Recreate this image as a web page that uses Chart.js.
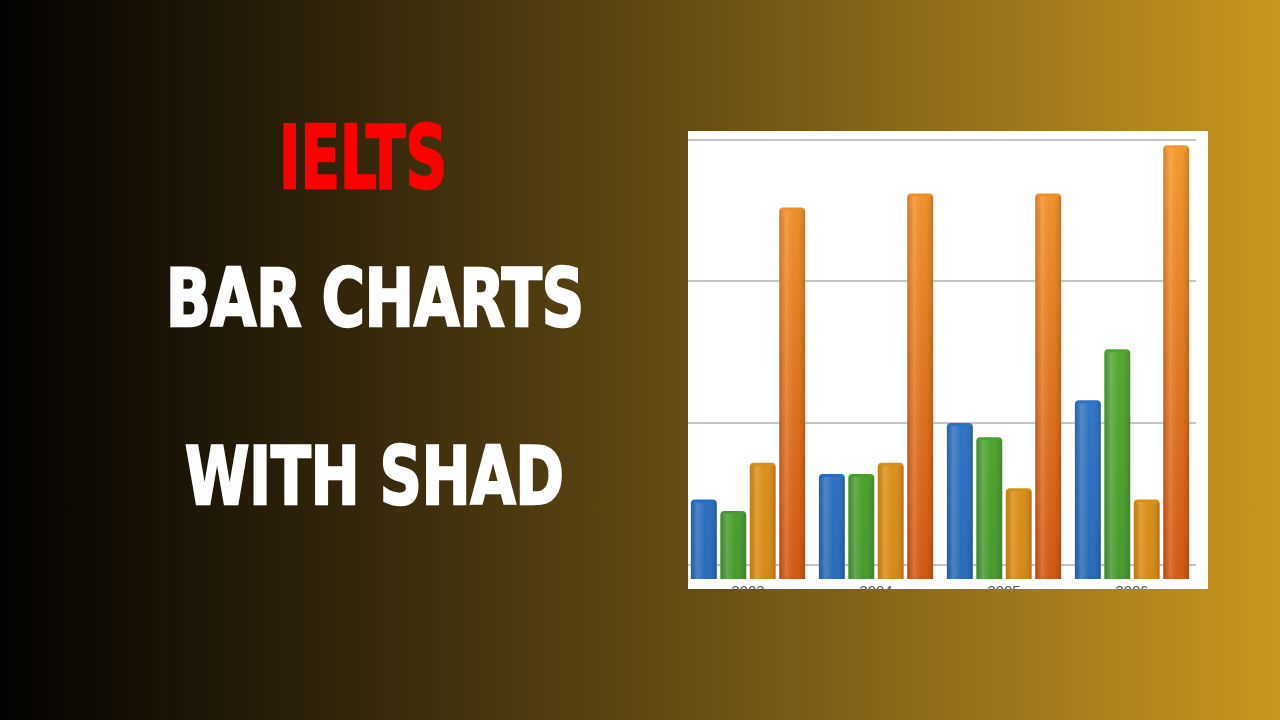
<!DOCTYPE html>
<html>
<head>
<meta charset="utf-8">
<script src="https://cdn.jsdelivr.net/npm/chart.js@4.4.1/dist/chart.umd.min.js"></script>
<style>
    html, body {
        margin: 0;
        width: 1280px;
        height: 720px;
        overflow: hidden;
    }
    body {
        position: relative;
        background: linear-gradient(90deg, #030201 0%, #2e2209 25%, #5e4712 50%, #94701a 75%, #c9971f 100%);
        font-family: "Liberation Sans Narrow", "DejaVu Sans Condensed", "Liberation Sans", sans-serif;
    }
    .title {
        position: absolute;
        white-space: nowrap;
        font-weight: bold;
        line-height: 1;
        transform-origin: 0 0;
        -webkit-text-stroke: 2.5px currentColor;
    }
    #chartBox {
        position: absolute;
        left: 688px;
        top: 131px;
        width: 520px;
        height: 458px;
        overflow: hidden;
        background: #ffffff;
    }
    #barChart {
        position: absolute;
        left: -4px;
        top: 0;
    }
</style>
</head>
<body>
<div class="title" id="t1" style="color:#ff0000">IELTS</div>
<div class="title" id="t2" style="color:#ffffff">BAR CHARTS</div>
<div class="title" id="t3" style="color:#ffffff">WITH SHAD</div>

<div id="chartBox">
    <canvas id="barChart" width="524" height="474"></canvas>
</div>

<script>
// categories (labels at the bottom are cut off in the picture)
const years = ["2003", "2004", "2005", "2006"];

// four series (gridlines every 50)
const seriesBlue = [23, 32, 50, 58];
const seriesGreen = [19, 32, 45, 76];
const seriesYellow = [36, 36, 27, 23];
const seriesOrange = [126, 131, 131, 148];
const gridValues = [0, 50, 100, 150];

// place the heading lines: [element, left, right, baseline, cap height]
const titles = [
    ["t1", 279, 447, 189, 68],
    ["t2", 166, 584, 326, 62],
    ["t3", 185, 564, 504, 63]
];
titles.forEach(([id, left, right, baseline, cap]) => {
    const el = document.getElementById(id);
    const size = cap / 0.78;
    el.style.fontSize = size + "px";
    el.style.left = left + "px";
    el.style.top = (baseline - 0.8465 * size) + "px";
    const w = el.getBoundingClientRect().width;
    el.style.transform = "scaleX(" + ((right - left) / w) + ")";
});

function vertical(top, bottom) {
    return function(c) {
        const area = c.chart.chartArea;
        if (!area) return top;
        const g = c.chart.ctx.createLinearGradient(0, area.top, 0, area.bottom);
        g.addColorStop(0, top);
        g.addColorStop(1, bottom);
        return g;
    };
}

// soft cylinder shading over each bar
const shadePlugin = {
    id: "shade",
    afterDatasetsDraw(chart) {
        const ctx = chart.ctx;
        chart.data.datasets.forEach((ds, i) => {
            chart.getDatasetMeta(i).data.forEach(bar => {
                const p = bar.getProps(["x", "y", "base", "width"], true);
                const left = p.x - p.width / 2;
                const g = ctx.createLinearGradient(left, 0, left + p.width, 0);
                g.addColorStop(0, "rgba(0,0,0,0.10)");
                g.addColorStop(0.25, "rgba(255,255,255,0.18)");
                g.addColorStop(0.55, "rgba(255,255,255,0.02)");
                g.addColorStop(1, "rgba(0,0,0,0.16)");
                ctx.save();
                ctx.fillStyle = g;
                ctx.fillRect(left, p.y + 3, p.width, p.base - p.y - 3);
                ctx.restore();
            });
        });
    }
};

const ctx = document.getElementById("barChart").getContext("2d");

new Chart(ctx, {
    type: "bar",
    data: {
        labels: years,
        datasets: [
            { label: "Series 1", data: seriesBlue, backgroundColor: vertical("#3585d8", "#2467b9") },
            { label: "Series 2", data: seriesGreen, backgroundColor: vertical("#5cb632", "#43982a") },
            { label: "Series 3", data: seriesYellow, backgroundColor: vertical("#e6a01e", "#d68812") },
            { label: "Series 4", data: seriesOrange, backgroundColor: vertical("#f6982a", "#d0540f") }
        ]
    },
    options: {
        responsive: false,
        animation: false,
        layout: { padding: { left: 0, right: 12, top: 0, bottom: 0 } },
        datasets: {
            bar: {
                base: -5,
                categoryPercentage: 0.92,
                barPercentage: 0.88,
                borderRadius: { topLeft: 4, topRight: 4 },
                borderSkipped: "bottom"
            }
        },
        plugins: {
            legend: { display: false },
            tooltip: { enabled: false }
        },
        scales: {
            x: {
                grid: { display: false, drawTicks: false },
                border: { display: false },
                ticks: {
                    color: "#555555",
                    padding: 4,
                    font: { family: "Liberation Sans", size: 15 }
                }
            },
            y: {
                min: -5,
                max: 153,
                border: { display: false },
                ticks: { display: false },
                afterBuildTicks: scale => {
                    scale.ticks = gridValues.map(v => ({ value: v }));
                },
                grid: {
                    drawTicks: false,
                    lineWidth: 2,
                    color: "#c6c6c6"
                }
            }
        }
    },
    plugins: [shadePlugin]
});
</script>
</body>
</html>
